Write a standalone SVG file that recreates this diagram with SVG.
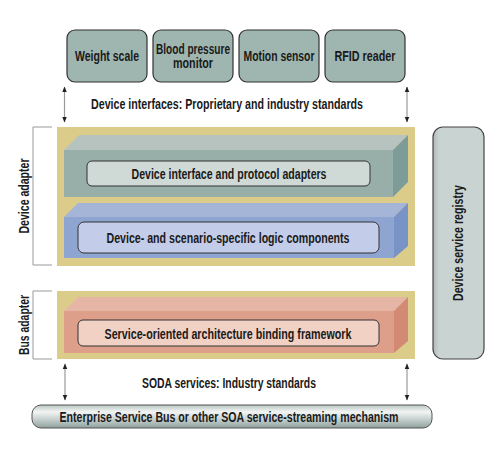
<svg xmlns="http://www.w3.org/2000/svg" width="500" height="460" viewBox="0 0 500 460">
<style>
text{font-family:"Liberation Sans",Arial,sans-serif;font-weight:bold;font-size:13.8px;fill:#1a1a1a;text-anchor:middle}
.dev{fill:#9fb5af;stroke:#333;stroke-width:1.2}
.inner{stroke:#333;stroke-width:1}
.tan{fill:#dccc8a}
.br{fill:none;stroke:#999;stroke-width:1}
.shaft{stroke:#999;stroke-width:1.2}
</style>
<defs>
<marker id="ah" viewBox="0 0 10 10" refX="9" refY="5" markerWidth="6" markerHeight="6" orient="auto-start-reverse" markerUnits="userSpaceOnUse">
<path d="M0,1 L10,5 L0,9 Z" fill="#222"/>
</marker>
<linearGradient id="esb" x1="0" y1="0" x2="0" y2="1">
<stop offset="0" stop-color="#b9c6c4"/>
<stop offset="0.3" stop-color="#f2f5f4"/>
<stop offset="0.6" stop-color="#c9d3d1"/>
<stop offset="1" stop-color="#8fa19e"/>
</linearGradient>
<linearGradient id="reg" x1="0" y1="0" x2="1" y2="0">
<stop offset="0" stop-color="#aebab8"/>
<stop offset="0.12" stop-color="#c9d3d1"/>
<stop offset="1" stop-color="#c9d3d1"/>
</linearGradient>
</defs>

<g id="weight-scale">
<rect class="dev" x="67" y="30" width="80" height="52" rx="8"/>
<text x="107" y="61" textLength="64" lengthAdjust="spacingAndGlyphs">Weight scale</text>
</g>
<g id="blood-pressure-monitor">
<rect class="dev" x="153" y="30" width="80" height="52" rx="8"/>
<text x="193" y="54" textLength="74" lengthAdjust="spacingAndGlyphs">Blood pressure</text>
<text x="193" y="68" textLength="40" lengthAdjust="spacingAndGlyphs">monitor</text>
</g>
<g id="motion-sensor">
<rect class="dev" x="239" y="30" width="80" height="52" rx="8"/>
<text x="279" y="61" textLength="71" lengthAdjust="spacingAndGlyphs">Motion sensor</text>
</g>
<g id="rfid-reader">
<rect class="dev" x="325" y="30" width="80" height="52" rx="8"/>
<text x="365" y="61" textLength="61" lengthAdjust="spacingAndGlyphs">RFID reader</text>
</g>

<g id="device-interfaces-label">
<text x="227" y="109" textLength="272" lengthAdjust="spacingAndGlyphs">Device interfaces: Proprietary and industry standards</text>
</g>

<g id="device-adapter">
<path class="br" d="M52,127 H33 V265 H52"/>
<text transform="translate(29,196) rotate(-90)" textLength="75" lengthAdjust="spacingAndGlyphs">Device adapter</text>
<rect class="tan" x="57" y="127" width="358" height="139"/>
</g>

<g id="device-interface-adapters">
<polygon points="64,150 79,135 408,135 393,150" fill="#b7c3bf"/>
<rect x="64" y="150" width="329" height="47" fill="#97aea9"/>
<polygon points="393,150 408,135 408,182 393,197" fill="#7e9c97"/>
<rect class="inner" x="87" y="161" width="283" height="25" rx="5" fill="#cfd9d6"/>
<text x="229" y="178.5" textLength="195" lengthAdjust="spacingAndGlyphs">Device interface and protocol adapters</text>
</g>

<g id="logic-components">
<polygon points="64,217 78,203 408,203 394,217" fill="#a4b5d8"/>
<rect x="64" y="217" width="330" height="41" fill="#8ea5d1"/>
<polygon points="394,217 408,203 408,246 394,258" fill="#7893c5"/>
<rect class="inner" x="78" y="222" width="301" height="31" rx="6" fill="#c3cce8"/>
<text x="228" y="242.5" textLength="243" lengthAdjust="spacingAndGlyphs">Device- and scenario-specific logic components</text>
</g>

<g id="bus-adapter">
<path class="br" d="M52,291 H33 V359 H52"/>
<text transform="translate(29,325) rotate(-90)" textLength="60" lengthAdjust="spacingAndGlyphs">Bus adapter</text>
<rect class="tan" x="57" y="291" width="358" height="68"/>
</g>

<g id="soa-binding-framework">
<polygon points="64,311 78,297 408,297 394,311" fill="#e5b6a5"/>
<rect x="64" y="311" width="330" height="42" fill="#dd9e8a"/>
<polygon points="394,311 408,297 408,341 394,353" fill="#d38a75"/>
<rect class="inner" x="78" y="320" width="301" height="26" rx="5" fill="#f2d1c5"/>
<text x="228" y="338.5" textLength="247" lengthAdjust="spacingAndGlyphs">Service-oriented architecture binding framework</text>
</g>

<g id="device-service-registry">
<rect x="433" y="127" width="51" height="232" rx="10" fill="url(#reg)" stroke="#444" stroke-width="1.2"/>
<text transform="translate(463,243) rotate(-90)" textLength="116" lengthAdjust="spacingAndGlyphs">Device service registry</text>
</g>

<g id="soda-label">
<text x="229" y="388" textLength="174" lengthAdjust="spacingAndGlyphs">SODA services: Industry standards</text>
</g>

<g id="esb">
<rect x="32" y="405" width="400" height="23" rx="9" fill="url(#esb)" stroke="#555" stroke-width="1"/>
<text x="229" y="421.5" textLength="339" lengthAdjust="spacingAndGlyphs">Enterprise Service Bus or other SOA service-streaming mechanism</text>
</g>

<g id="connectors">
<line class="shaft" x1="64.5" y1="87" x2="64.5" y2="122" marker-start="url(#ah)" marker-end="url(#ah)"/>
<line class="shaft" x1="407" y1="87" x2="407" y2="122" marker-start="url(#ah)" marker-end="url(#ah)"/>
<line class="shaft" x1="65" y1="364" x2="65" y2="400" marker-start="url(#ah)" marker-end="url(#ah)"/>
<line class="shaft" x1="407" y1="364" x2="407" y2="400" marker-start="url(#ah)" marker-end="url(#ah)"/>
</g>
</svg>
